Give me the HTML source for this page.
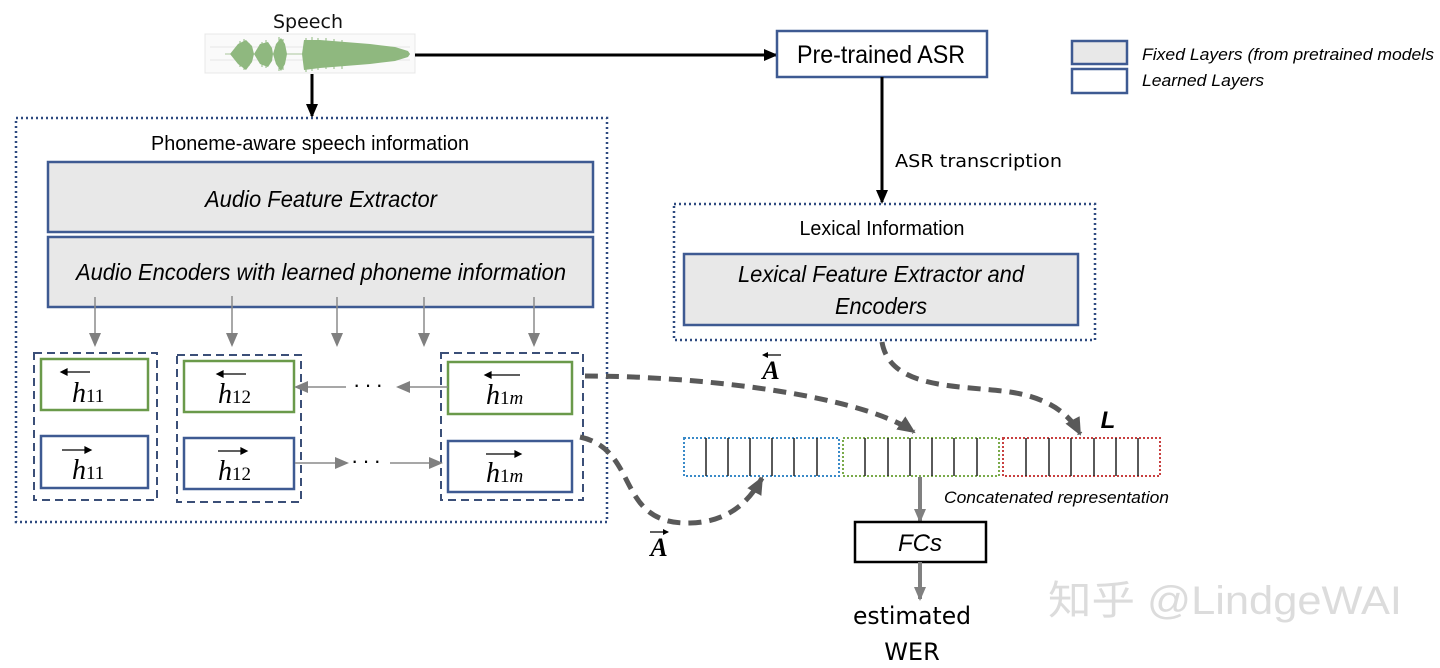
<!DOCTYPE html>
<html><head><meta charset="utf-8"><style>
html,body{margin:0;padding:0;background:#fff;}
svg{display:block;}
.s{font-family:"Liberation Sans",sans-serif;}
.m{font-family:"Liberation Serif",serif;font-style:italic;}
.c{font-family:"DejaVu Sans","Liberation Sans",sans-serif;}
</style></head><body>
<svg width="1440" height="668" viewBox="0 0 1440 668" xmlns="http://www.w3.org/2000/svg">
<defs>
<marker id="ab" markerWidth="14" markerHeight="14" refX="12" refY="7" orient="auto" markerUnits="userSpaceOnUse"><path d="M0,1 L14,7 L0,13 z" fill="#000"/></marker>
<marker id="ag" markerWidth="14" markerHeight="14" refX="12" refY="7" orient="auto" markerUnits="userSpaceOnUse"><path d="M0,1 L14,7 L0,13 z" fill="#808080"/></marker>
<marker id="ad" markerWidth="20" markerHeight="20" refX="16" refY="10" orient="auto" markerUnits="userSpaceOnUse"><path d="M0,2 L18,10 L0,18 z" fill="#595959"/></marker>
</defs>

<text x="308" y="28" class="c" font-size="19" text-anchor="middle" fill="#111">Speech</text>
<rect x="205" y="34" width="210" height="39" fill="#fafafa" stroke="#e8e8e8"/>
<line x1="210" y1="47" x2="410" y2="47" stroke="#e6e6e6"/>
<line x1="210" y1="60" x2="410" y2="60" stroke="#e6e6e6"/>
<line x1="225" y1="54" x2="410" y2="54" stroke="#a9c59c"/>
<g fill="#8fb87f">
<path d="M230,54 L238,44 L246,40 L252,46 L254,54 L252,62 L246,70 L238,64 Z"/>
<path d="M254,54 L260,44 L268,42 L272,48 L273,54 L272,61 L268,67 L260,64 Z"/>
<path d="M273,54 L276,44 L281,38 L285,44 L287,54 L285,64 L281,71 L276,64 Z"/>
<path d="M302,54 L304,40 L320,40 L345,42 L370,44 L395,47 L408,51 L410,54 L408,57 L395,61 L370,64 L345,66 L320,68 L304,70 Z"/>
</g>
<g stroke="#8fb87f" stroke-width="1">
<path d="M240,41 v26 M244,39 v31 M249,43 v23 M262,42 v25 M266,40 v28 M279,37 v34 M283,39 v31 M306,38 v34 M312,37 v34 M318,38 v32 M326,38 v31 M334,39 v30 M342,40 v29"/>
</g>

<line x1="415" y1="55" x2="776" y2="55" stroke="#000" stroke-width="3" marker-end="url(#ab)"/>
<line x1="312" y1="74" x2="312" y2="116" stroke="#000" stroke-width="3" marker-end="url(#ab)"/>

<rect x="777" y="31" width="210" height="46" fill="#fff" stroke="#3e5a92" stroke-width="2.5"/>
<text x="881" y="63" class="s" font-size="25" text-anchor="middle" textLength="168" lengthAdjust="spacingAndGlyphs">Pre-trained ASR</text>

<rect x="1072" y="41" width="55" height="23" fill="#e8e8e8" stroke="#3e5a92" stroke-width="2.5"/>
<rect x="1072" y="69" width="55" height="24" fill="#fff" stroke="#3e5a92" stroke-width="2.5"/>
<text x="1142" y="60" class="s" font-size="17" font-style="italic" textLength="292" lengthAdjust="spacingAndGlyphs">Fixed Layers (from pretrained models</text>
<text x="1142" y="86" class="s" font-size="17" font-style="italic" textLength="122" lengthAdjust="spacingAndGlyphs">Learned Layers</text>

<rect x="16" y="118" width="591" height="404" fill="none" stroke="#2e4a80" stroke-width="2.5" stroke-dasharray="2 3"/>
<text x="310" y="150" class="s" font-size="20" text-anchor="middle" textLength="318" lengthAdjust="spacingAndGlyphs">Phoneme-aware speech information</text>
<rect x="48" y="162" width="545" height="70" fill="#e8e8e8" stroke="#3e5a92" stroke-width="2.5"/>
<text x="321" y="207" class="s" font-size="23" font-style="italic" text-anchor="middle" textLength="232" lengthAdjust="spacingAndGlyphs">Audio Feature Extractor</text>
<rect x="48" y="237" width="545" height="70" fill="#e8e8e8" stroke="#3e5a92" stroke-width="2.5"/>
<text x="321" y="280" class="s" font-size="23" font-style="italic" text-anchor="middle" textLength="490" lengthAdjust="spacingAndGlyphs">Audio Encoders with learned phoneme information</text>

<g stroke="#8a8a8a" stroke-width="1.5">
<line x1="95" y1="297" x2="95" y2="345" marker-end="url(#ag)"/>
<line x1="232" y1="296" x2="232" y2="345" marker-end="url(#ag)"/>
<line x1="337" y1="297" x2="337" y2="345" marker-end="url(#ag)"/>
<line x1="424" y1="297" x2="424" y2="345" marker-end="url(#ag)"/>
<line x1="534" y1="297" x2="534" y2="345" marker-end="url(#ag)"/>
</g>

<g fill="none" stroke="#3b4f78" stroke-width="2" stroke-dasharray="8 5">
<rect x="34" y="353" width="123" height="147"/>
<rect x="177" y="355" width="124" height="147"/>
<rect x="441" y="353" width="142" height="147"/>
</g>
<g fill="#fff" stroke-width="2.5">
<rect x="41" y="359" width="107" height="51" stroke="#6a9a4a"/>
<rect x="184" y="361" width="110" height="51" stroke="#6a9a4a"/>
<rect x="448" y="362" width="124" height="52" stroke="#6a9a4a"/>
<rect x="41" y="436" width="107" height="52" stroke="#3e5a92"/>
<rect x="184" y="438" width="110" height="51" stroke="#3e5a92"/>
<rect x="448" y="441" width="124" height="51" stroke="#3e5a92"/>
</g>

<g class="m" fill="#000">
<text x="72" y="402" font-size="28">h<tspan font-size="19" font-style="normal">11</tspan></text>
<text x="218" y="403" font-size="28">h<tspan font-size="19" font-style="normal">12</tspan></text>
<text x="486" y="404" font-size="28">h<tspan font-size="19" font-style="normal">1<tspan font-style="italic">m</tspan></tspan></text>
<text x="72" y="479" font-size="28">h<tspan font-size="19" font-style="normal">11</tspan></text>
<text x="218" y="480" font-size="28">h<tspan font-size="19" font-style="normal">12</tspan></text>
<text x="486" y="482" font-size="28">h<tspan font-size="19" font-style="normal">1<tspan font-style="italic">m</tspan></tspan></text>
</g>
<g stroke="#000" stroke-width="1.2" fill="#000">
<line x1="62" y1="372" x2="90" y2="372"/><path d="M61,372 l6,-3 v6 z"/>
<line x1="218" y1="374" x2="246" y2="374"/><path d="M217,374 l6,-3 v6 z"/>
<line x1="486" y1="375" x2="520" y2="375"/><path d="M485,375 l6,-3 v6 z"/>
<line x1="62" y1="450" x2="90" y2="450"/><path d="M91,450 l-6,-3 v6 z"/>
<line x1="218" y1="451" x2="246" y2="451"/><path d="M247,451 l-6,-3 v6 z"/>
<line x1="486" y1="454" x2="520" y2="454"/><path d="M521,454 l-6,-3 v6 z"/>
</g>

<g stroke="#8a8a8a" stroke-width="1.5">
<line x1="448" y1="387" x2="398" y2="387" marker-end="url(#ag)"/>
<line x1="346" y1="387" x2="296" y2="387" marker-end="url(#ag)"/>
<line x1="295" y1="463" x2="347" y2="463" marker-end="url(#ag)"/>
<line x1="390" y1="463" x2="441" y2="463" marker-end="url(#ag)"/>
</g>
<text x="370" y="392" class="s" font-size="22" text-anchor="middle" letter-spacing="4">···</text>
<text x="368" y="468" class="s" font-size="22" text-anchor="middle" letter-spacing="4">···</text>

<line x1="882" y1="77" x2="882" y2="202" stroke="#000" stroke-width="3" marker-end="url(#ab)"/>
<text x="895" y="167" class="c" font-size="18" textLength="167" lengthAdjust="spacingAndGlyphs">ASR transcription</text>

<rect x="674" y="204" width="421" height="136" fill="none" stroke="#2e4a80" stroke-width="2.5" stroke-dasharray="2 3"/>
<text x="882" y="235" class="s" font-size="20" text-anchor="middle" textLength="165" lengthAdjust="spacingAndGlyphs">Lexical Information</text>
<rect x="684" y="254" width="394" height="71" fill="#e8e8e8" stroke="#3e5a92" stroke-width="2.5"/>
<text x="881" y="282" class="s" font-size="23" font-style="italic" text-anchor="middle" textLength="286" lengthAdjust="spacingAndGlyphs">Lexical Feature Extractor and</text>
<text x="881" y="314" class="s" font-size="23" font-style="italic" text-anchor="middle" textLength="92" lengthAdjust="spacingAndGlyphs">Encoders</text>

<rect x="684" y="438" width="155" height="38" fill="#fff" stroke="#3a8ac8" stroke-width="2" stroke-dasharray="2 2"/>
<rect x="843" y="438" width="156" height="38" fill="#fff" stroke="#7aaa4a" stroke-width="2" stroke-dasharray="2 2"/>
<rect x="1003" y="438" width="157" height="38" fill="#fff" stroke="#c84040" stroke-width="2" stroke-dasharray="2 2"/>
<g stroke="#222" stroke-width="1.5">
<line x1="706" y1="438" x2="706" y2="476"/><line x1="728" y1="438" x2="728" y2="476"/><line x1="750" y1="438" x2="750" y2="476"/><line x1="772" y1="438" x2="772" y2="476"/><line x1="794" y1="438" x2="794" y2="476"/><line x1="817" y1="438" x2="817" y2="476"/>
<line x1="865" y1="438" x2="865" y2="476"/><line x1="888" y1="438" x2="888" y2="476"/><line x1="910" y1="438" x2="910" y2="476"/><line x1="932" y1="438" x2="932" y2="476"/><line x1="954" y1="438" x2="954" y2="476"/><line x1="977" y1="438" x2="977" y2="476"/>
<line x1="1026" y1="438" x2="1026" y2="476"/><line x1="1049" y1="438" x2="1049" y2="476"/><line x1="1071" y1="438" x2="1071" y2="476"/><line x1="1094" y1="438" x2="1094" y2="476"/><line x1="1116" y1="438" x2="1116" y2="476"/><line x1="1138" y1="438" x2="1138" y2="476"/>
</g>
<text x="944" y="503" class="s" font-size="17" font-style="italic" textLength="225" lengthAdjust="spacingAndGlyphs">Concatenated representation</text>

<g fill="none" stroke="#595959" stroke-width="5" stroke-dasharray="13 8">
<path d="M585,376 C700,376 860,395 914,432" marker-end="url(#ad)"/>
<path d="M580,437 C640,450 615,525 690,523 C730,522 750,500 762,478" marker-end="url(#ad)"/>
<path d="M882,342 C890,390 960,385 1010,392 C1050,398 1070,415 1080,434" marker-end="url(#ad)"/>
</g>
<text x="771" y="379" class="m" font-size="26" font-weight="bold" text-anchor="middle">A</text>
<line x1="763" y1="355" x2="781" y2="355" stroke="#000" stroke-width="1.2"/><path d="M762,355 l6,-3 v6 z"/>
<text x="659" y="556" class="m" font-size="26" font-weight="bold" text-anchor="middle">A</text>
<line x1="650" y1="532" x2="668" y2="532" stroke="#000" stroke-width="1.2"/><path d="M669,532 l-6,-3 v6 z"/>
<text x="1108" y="428" class="s" font-size="24" font-weight="bold" font-style="italic" text-anchor="middle">L</text>

<line x1="920" y1="477" x2="920" y2="521" stroke="#808080" stroke-width="4" marker-end="url(#ag)"/>
<rect x="855" y="522" width="131" height="40" fill="#fff" stroke="#000" stroke-width="2.5"/>
<text x="920" y="551" class="s" font-size="24" font-style="italic" text-anchor="middle">FCs</text>
<line x1="920" y1="562" x2="920" y2="599" stroke="#808080" stroke-width="4" marker-end="url(#ag)"/>
<text x="912" y="624" class="c" font-size="24" text-anchor="middle" textLength="118" lengthAdjust="spacingAndGlyphs">estimated</text>
<text x="912" y="660" class="c" font-size="24" text-anchor="middle">WER</text>

<text x="1048" y="614" font-family="'Liberation Sans','Noto Sans CJK SC',sans-serif" font-size="40" fill="#dcdcdc" textLength="354" lengthAdjust="spacingAndGlyphs">知乎 @LindgeWAI</text>
</svg>
</body></html>
